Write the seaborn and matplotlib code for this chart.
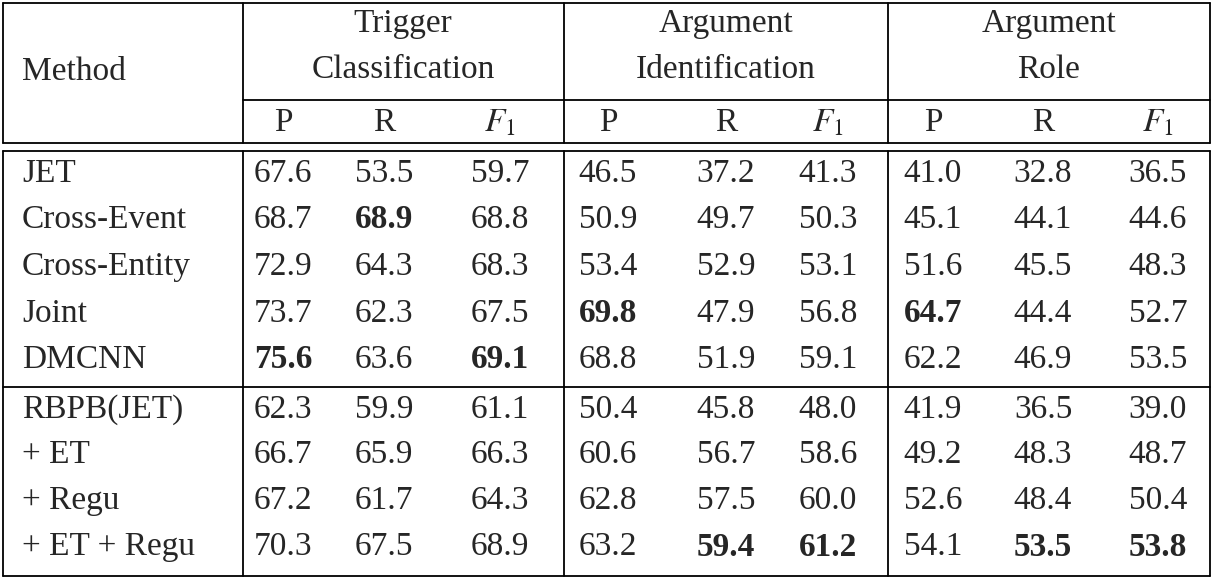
import matplotlib
matplotlib.use("Agg")
import matplotlib.pyplot as plt
import seaborn as sns

sns.set_theme(style="white")
plt.rcParams['font.family'] = ['Liberation Serif', 'DejaVu Serif']
plt.rcParams['mathtext.fontset'] = 'stix'

methods = ["JET", "Cross-Event", "Cross-Entity", "Joint", "DMCNN",
           "RBPB(JET)", "+ ET", "+ Regu", "+ ET + Regu"]
values = [
    ["67.6", "53.5", "59.7", "46.5", "37.2", "41.3", "41.0", "32.8", "36.5"],
    ["68.7", "68.9", "68.8", "50.9", "49.7", "50.3", "45.1", "44.1", "44.6"],
    ["72.9", "64.3", "68.3", "53.4", "52.9", "53.1", "51.6", "45.5", "48.3"],
    ["73.7", "62.3", "67.5", "69.8", "47.9", "56.8", "64.7", "44.4", "52.7"],
    ["75.6", "63.6", "69.1", "68.8", "51.9", "59.1", "62.2", "46.9", "53.5"],
    ["62.3", "59.9", "61.1", "50.4", "45.8", "48.0", "41.9", "36.5", "39.0"],
    ["66.7", "65.9", "66.3", "60.6", "56.7", "58.6", "49.2", "48.3", "48.7"],
    ["67.2", "61.7", "64.3", "62.8", "57.5", "60.0", "52.6", "48.4", "50.4"],
    ["70.3", "67.5", "68.9", "63.2", "59.4", "61.2", "54.1", "53.5", "53.8"],
]
bold = [(1, 1), (3, 3), (3, 6), (4, 0), (4, 2), (8, 4), (8, 5), (8, 7), (8, 8)]
groups = [("Trigger", "Classification"), ("Argument", "Identification"), ("Argument", "Role")]
sub = ["P", "R", "$F_1$"]

W, H = 1214, 579
fig = plt.figure(figsize=(W / 100, H / 100), dpi=100)
ax = fig.add_axes([0, 0, 1, 1])
ax.set_xlim(0, W)
ax.set_ylim(H, 0)
ax.axis("off")

fs = 24
col_x = [283, 384, 500, 608, 726, 828, 933, 1043, 1158]
group_x = [403, 726, 1049]
ys = [174, 220, 267, 314, 360, 410, 455, 501, 547]

lw = 1.3
kw = dict(color="black", lw=lw)
# horizontal lines
ax.plot([3, 1210], [3, 3], **kw)
ax.plot([243, 1210], [100, 100], **kw)
ax.plot([3, 1210], [143, 143], **kw)
ax.plot([3, 1210], [151, 151], **kw)
ax.plot([3, 1210], [387, 387], **kw)
ax.plot([3, 1210], [576, 576], **kw)
# vertical lines
for x in [3, 243, 564, 888, 1210]:
    ax.plot([x, x], [3, 143], **kw)
    ax.plot([x, x], [151, 576], **kw)

ax.text(22, 72, "Method", fontsize=fs, ha="left", va="center")
for gx, (a, b) in zip(group_x, groups):
    ax.text(gx, 24, a, fontsize=fs, ha="center", va="center")
    ax.text(gx, 70, b, fontsize=fs, ha="center", va="center")
for i, cx in enumerate(col_x):
    ax.text(cx, 123, sub[i % 3], fontsize=fs, ha="center", va="center")

for r, (m, y) in enumerate(zip(methods, ys)):
    ax.text(22, y, m, fontsize=fs, ha="left", va="center")
    for c, cx in enumerate(col_x):
        ax.text(cx, y, values[r][c], fontsize=fs, ha="center", va="center",
                fontweight="bold" if (r, c) in bold else "normal")

fig.savefig("out.png", dpi=100)
